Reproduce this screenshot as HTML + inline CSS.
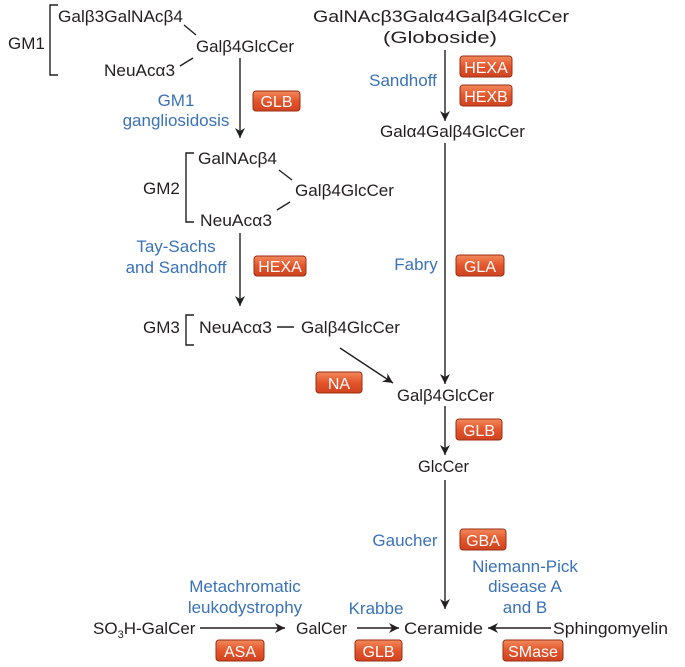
<!DOCTYPE html>
<html><head><meta charset="utf-8"><style>
html,body{margin:0;padding:0;background:#fff;}
svg{display:block;}
text{font-family:"Liberation Sans",sans-serif;font-size:17px;fill:#231f20;}
.b{fill:#3a72b8;}
.w{fill:#fff;font-size:16px;}
</style></head><body>
<svg width="685" height="667" viewBox="0 0 685 667">
<defs>
<linearGradient id="g" x1="0" y1="0" x2="0" y2="1">
<stop offset="0" stop-color="#f08a5c"/><stop offset="0.5" stop-color="#e4552b"/><stop offset="1" stop-color="#cf4320"/>
</linearGradient>
<marker id="a" viewBox="0 0 10 10" refX="10" refY="5" markerWidth="11" markerHeight="10" markerUnits="userSpaceOnUse" orient="auto">
<path d="M0,0 L10,5 L0,10 L3,5 z" fill="#231f20"/>
</marker>
</defs>
<g stroke="#231f20" stroke-width="1.4" fill="none">
<path d="M58,5 H50 V75 H58"/>
<line x1="184" y1="25" x2="196" y2="35"/>
<line x1="180" y1="66" x2="193" y2="58"/>
<path d="M194,153 H186 V222 H194"/>
<line x1="279" y1="170" x2="292" y2="180"/>
<line x1="277" y1="210" x2="290" y2="202"/>
<path d="M194,315 H186 V345 H194"/>
<line x1="277" y1="327" x2="294" y2="327"/>
<line x1="240" y1="58" x2="240" y2="138" marker-end="url(#a)"/>
<line x1="240" y1="233" x2="240" y2="306" marker-end="url(#a)"/>
<line x1="340" y1="348" x2="393" y2="383" marker-end="url(#a)"/>
<line x1="445" y1="50" x2="445" y2="121" marker-end="url(#a)"/>
<line x1="445" y1="143" x2="445" y2="384" marker-end="url(#a)"/>
<line x1="445" y1="406" x2="445" y2="455" marker-end="url(#a)"/>
<line x1="445" y1="480" x2="445" y2="609" marker-end="url(#a)"/>
<line x1="200" y1="628" x2="285" y2="628" marker-end="url(#a)"/>
<line x1="357" y1="628" x2="399" y2="628" marker-end="url(#a)"/>
<line x1="551" y1="628" x2="488" y2="628" marker-end="url(#a)"/>
</g>
<g lengthAdjust="spacingAndGlyphs">
<text x="58" y="22" textLength="125" lengthAdjust="spacingAndGlyphs">Galβ3GalNAcβ4</text>
<text x="8" y="49">GM1</text>
<text x="196" y="52" textLength="98" lengthAdjust="spacingAndGlyphs">Galβ4GlcCer</text>
<text x="104" y="76" textLength="71" lengthAdjust="spacingAndGlyphs">NeuAcα3</text>
<text x="198" y="164" textLength="79" lengthAdjust="spacingAndGlyphs">GalNAcβ4</text>
<text x="143" y="194">GM2</text>
<text x="295" y="196" textLength="99" lengthAdjust="spacingAndGlyphs">Galβ4GlcCer</text>
<text x="200" y="226" textLength="72" lengthAdjust="spacingAndGlyphs">NeuAcα3</text>
<text x="143" y="333">GM3</text>
<text x="199" y="333" textLength="73" lengthAdjust="spacingAndGlyphs">NeuAcα3</text>
<text x="301" y="333" textLength="99" lengthAdjust="spacingAndGlyphs">Galβ4GlcCer</text>
<text x="397" y="401" textLength="97" lengthAdjust="spacingAndGlyphs">Galβ4GlcCer</text>
<text x="313" y="22" textLength="256" lengthAdjust="spacingAndGlyphs">GalNAcβ3Galα4Galβ4GlcCer</text>
<text x="383" y="43" textLength="114" lengthAdjust="spacingAndGlyphs">(Globoside)</text>
<text x="380" y="137" textLength="145" lengthAdjust="spacingAndGlyphs">Galα4Galβ4GlcCer</text>
<text x="418" y="472" textLength="51" lengthAdjust="spacingAndGlyphs">GlcCer</text>
<text x="93" y="634">SO<tspan font-size="11" dy="4">3</tspan><tspan dy="-4">H-GalCer</tspan></text>
<text x="296" y="634" textLength="51" lengthAdjust="spacingAndGlyphs">GalCer</text>
<text x="404" y="634" textLength="79" lengthAdjust="spacingAndGlyphs">Ceramide</text>
<text x="553" y="634" textLength="115" lengthAdjust="spacingAndGlyphs">Sphingomyelin</text>
</g>
<g text-anchor="middle">
<text class="b" x="176" y="106">GM1</text>
<text class="b" x="176" y="126">gangliosidosis</text>
<text class="b" x="176" y="252">Tay-Sachs</text>
<text class="b" x="176" y="273">and Sandhoff</text>
<text class="b" x="403" y="86">Sandhoff</text>
<text class="b" x="416" y="270">Fabry</text>
<text class="b" x="405" y="546">Gaucher</text>
<text class="b" x="245" y="592">Metachromatic</text>
<text class="b" x="245" y="613">leukodystrophy</text>
<text class="b" x="376" y="614">Krabbe</text>
<text class="b" x="525" y="572">Niemann-Pick</text>
<text class="b" x="525" y="592">disease A</text>
<text class="b" x="525" y="613">and B</text>
</g>
<g stroke="#9a2e12" stroke-width="1" fill="url(#g)">
<rect x="253" y="91" width="47" height="20" rx="3"/>
<rect x="254" y="256" width="52" height="20" rx="3"/>
<rect x="316" y="372" width="46" height="21" rx="3"/>
<rect x="460" y="56" width="52" height="21" rx="3"/>
<rect x="460" y="85" width="52" height="21" rx="3"/>
<rect x="456" y="255" width="48" height="21" rx="3"/>
<rect x="456" y="419" width="46" height="21" rx="3"/>
<rect x="460" y="529" width="46" height="21" rx="3"/>
<rect x="216" y="640" width="48" height="21" rx="3"/>
<rect x="355" y="640" width="47" height="21" rx="3"/>
<rect x="503" y="640" width="60" height="21" rx="3"/>
</g>
<g text-anchor="middle">
<text class="w" x="276.5" y="107">GLB</text>
<text class="w" x="280" y="272">HEXA</text>
<text class="w" x="339" y="389">NA</text>
<text class="w" x="486" y="73">HEXA</text>
<text class="w" x="486" y="102">HEXB</text>
<text class="w" x="480" y="272">GLA</text>
<text class="w" x="479" y="436">GLB</text>
<text class="w" x="483" y="546">GBA</text>
<text class="w" x="240" y="657">ASA</text>
<text class="w" x="378.5" y="657">GLB</text>
<text class="w" x="533" y="657">SMase</text>
</g>
</svg>
</body></html>
